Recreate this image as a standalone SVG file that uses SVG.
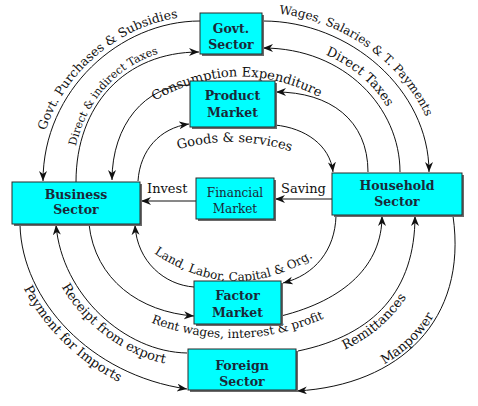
<svg xmlns="http://www.w3.org/2000/svg" xmlns:xlink="http://www.w3.org/1999/xlink" width="478" height="406" viewBox="0 0 478 406">
<style>
.box{fill:#00ffff;stroke:#2a2a2a;stroke-width:1}
.sh{fill:#6a6a6a}
.bt{font-family:"DejaVu Serif",serif;font-weight:bold;font-size:12.5px;fill:#1b2838;text-anchor:middle}
.ft{font-family:"DejaVu Serif",serif;font-size:12px;fill:#1b2838;text-anchor:middle}
.c{fill:none;stroke:#111;stroke-width:1}
.lb{font-family:"DejaVu Serif",serif;font-size:13px;fill:#111}
.tp{fill:none;stroke:none}
</style>
<defs>
<marker id="ah" markerUnits="userSpaceOnUse" markerWidth="12" markerHeight="10" refX="10" refY="4" orient="auto">
<path d="M0,0 L10,4 L0,8 L3,4 Z" fill="#111"/>
</marker>
<path id="p1" class="tp" d="M38,178 C38,88 118,16 200,16"/>
<path id="p2" class="tp" d="M72,182 C72,106 122,48 198,48"/>
<path id="p3" class="tp" d="M146,106 Q237,49 328,102"/>
<path id="p4" class="tp" d="M176,150 Q233,133 293,152"/>
<path id="p5" class="tp" d="M263,13 C352,13 437,88 437,166"/>
<path id="p6" class="tp" d="M265,43 C350,43 405,103 405,172"/>
<path id="p7" class="tp" d="M155,254 Q234,306 312,258"/>
<path id="p8" class="tp" d="M150,322 Q237,356 325,318"/>
<path id="p9" class="tp" d="M43,230 C49,302 120,365 187,366"/>
<path id="p10" class="tp" d="M7,225 C9,303 84,388 183,402"/>
<path id="p11" class="tp" d="M301,364 C380,348 428,292 428,222"/>
<path id="p12" class="tp" d="M300,388 C398,382 465,318 450,218"/>
</defs>
<rect width="478" height="406" fill="#fff"/>
<g id="connectors">
<path class="c" marker-end="url(#ah)" d="M200,21 C120,21 43,90 43,181"/>
<path class="c" marker-end="url(#ah)" d="M76,182 C76,105 125,52 199,52"/>
<path class="c" marker-end="url(#ah)" d="M190,85 C145,85 112,125 112,180"/>
<path class="c" marker-end="url(#ah)" d="M368,172 C368,120 330,92 276,92"/>
<path class="c" marker-end="url(#ah)" d="M138,181 C140,150 160,128 189,124"/>
<path class="c" marker-end="url(#ah)" d="M275,125 C305,128 330,145 333,172"/>
<path class="c" marker-end="url(#ah)" d="M263,21 C350,21 429,90 429,172"/>
<path class="c" marker-end="url(#ah)" d="M400,172 C400,108 345,48 263,48"/>
<path class="c" marker-end="url(#ah)" d="M194,287 C165,285 137,262 135,225"/>
<path class="c" marker-end="url(#ah)" d="M336,216 C335,250 315,275 283,283"/>
<path class="c" marker-end="url(#ah)" d="M89,224 C95,280 140,312 194,316"/>
<path class="c" marker-end="url(#ah)" d="M281,316 C345,300 382,265 382,216"/>
<path class="c" marker-end="url(#ah)" d="M187,353 C125,352 62,295 56,225"/>
<path class="c" marker-end="url(#ah)" d="M20,225 C22,300 90,375 187,389"/>
<path class="c" marker-end="url(#ah)" d="M298,351 C375,335 415,290 415,216"/>
<path class="c" marker-end="url(#ah)" d="M453,216 C468,320 400,385 297,391"/>
<path class="c" marker-end="url(#ah)" d="M196,201 L141,201"/>
<path class="c" marker-end="url(#ah)" d="M332,199 L275,199"/>
</g>
<g id="labels">
<text class="lb" style="font-size:12.5px"><textPath href="#p1" xlink:href="#p1" startOffset="48">Govt. Purchases &amp; Subsidies</textPath></text>
<text class="lb" style="font-size:11px"><textPath href="#p2" xlink:href="#p2" startOffset="36">Direct &amp; indirect Taxes</textPath></text>
<text class="lb" text-anchor="middle"><textPath href="#p3" xlink:href="#p3" startOffset="50%">Consumption Expenditure</textPath></text>
<text class="lb" text-anchor="middle"><textPath href="#p4" xlink:href="#p4" startOffset="50%">Goods &amp; services</textPath></text>
<text class="lb" style="font-size:12px"><textPath href="#p5" xlink:href="#p5" startOffset="16">Wages, Salaries &amp; T. Payments</textPath></text>
<text class="lb"><textPath href="#p6" xlink:href="#p6" startOffset="62">Direct Taxes</textPath></text>
<text class="lb" style="font-size:12px" text-anchor="middle"><textPath href="#p7" xlink:href="#p7" startOffset="50%">Land, Labor, Capital &amp; Org.</textPath></text>
<text class="lb" style="font-size:12px" text-anchor="middle"><textPath href="#p8" xlink:href="#p8" startOffset="50%">Rent wages, interest &amp; profit</textPath></text>
<text class="lb"><textPath href="#p9" xlink:href="#p9" startOffset="60">Receipt from export</textPath></text>
<text class="lb"><textPath href="#p10" xlink:href="#p10" startOffset="66">Payment for Imports</textPath></text>
<text class="lb"><textPath href="#p11" xlink:href="#p11" startOffset="46">Remittances</textPath></text>
<text class="lb"><textPath href="#p12" xlink:href="#p12" startOffset="88">Manpower</textPath></text>
<text class="lb" x="147" y="193">Invest</text>
<text class="lb" x="281" y="193">Saving</text>
</g>
<g id="govt">
<rect class="sh" x="202" y="15" width="62" height="41"/>
<rect class="box" x="200" y="13" width="62" height="41"/>
<text class="bt" x="231" y="33">Govt.</text>
<text class="bt" x="231" y="49">Sector</text>
</g>
<g id="product">
<rect class="sh" x="192" y="83" width="85" height="46"/>
<rect class="box" x="190" y="81" width="85" height="46"/>
<text class="bt" x="232.5" y="100">Product</text>
<text class="bt" x="232.5" y="117">Market</text>
</g>
<g id="household">
<rect class="sh" x="334" y="175" width="130" height="42"/>
<rect class="box" x="332" y="173" width="130" height="42"/>
<text class="bt" x="397" y="190">Household</text>
<text class="bt" x="397" y="206">Sector</text>
</g>
<g id="business">
<rect class="sh" x="14" y="184" width="128" height="42"/>
<rect class="box" x="12" y="182" width="128" height="42"/>
<text class="bt" x="76" y="199">Business</text>
<text class="bt" x="76" y="214">Sector</text>
</g>
<g id="financial">
<rect class="sh" x="198" y="180" width="78" height="41"/>
<rect class="box" x="196" y="178" width="78" height="41"/>
<text class="ft" x="235" y="197">Financial</text>
<text class="ft" x="235" y="213">Market</text>
</g>
<g id="factor">
<rect class="sh" x="196" y="283" width="87" height="43"/>
<rect class="box" x="194" y="281" width="87" height="43"/>
<text class="bt" x="237.5" y="300">Factor</text>
<text class="bt" x="237.5" y="317">Market</text>
</g>
<g id="foreign">
<rect class="sh" x="190" y="351" width="108" height="41"/>
<rect class="box" x="188" y="349" width="108" height="41"/>
<text class="bt" x="242" y="370">Foreign</text>
<text class="bt" x="242" y="386">Sector</text>
</g>
</svg>
